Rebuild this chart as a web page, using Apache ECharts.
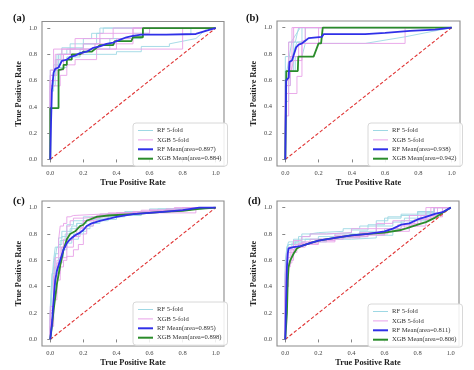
<!DOCTYPE html>
<html><head><meta charset="utf-8">
<script src="https://cdn.jsdelivr.net/npm/echarts@6/dist/echarts.min.js"></script>
<style>html,body{margin:0;padding:0;background:#fff}#c{width:474px;height:370px}</style>
</head><body><div id="c"></div><script>
// ---------- data ----------
const tickValues = [0, 0.2, 0.4, 0.6, 0.8, 1.0];
const panelLabels = ['(a)', '(b)', '(c)', '(d)'];
const axisTitle = 'True Positive Rate';
const foldNames = ['RF 5-fold', 'XGB 5-fold'];
const rfAreas = ['0.897', '0.938', '0.895', '0.811'];
const xgbAreas = ['0.884', '0.942', '0.898', '0.806'];
const diagonal = [[0, 0], [1, 1]];

// panel (a)
const aRfFolds = [
  [[0,0],[0,0.6],[0.02,0.6],[0.02,0.68],[0.05,0.68],[0.05,0.8],[0.1,0.8],[0.1,0.84],[0.2,0.84],[0.2,0.88],[0.28,0.88],[0.28,0.96],[0.3,0.96],[0.3,1],[1,1]],
  [[0,0],[0,0.64],[0.03,0.64],[0.03,0.76],[0.08,0.76],[0.08,0.8],[0.4,0.8],[0.4,0.82],[0.55,0.82],[0.55,0.86],[0.72,0.86],[0.72,0.88],[0.8,0.9],[0.88,0.92],[0.95,1],[1,1]],
  [[0,0],[0,0.52],[0.02,0.52],[0.02,0.72],[0.06,0.72],[0.06,0.8],[0.12,0.8],[0.12,0.88],[0.3,0.88],[0.3,0.92],[0.5,0.92],[0.5,0.96],[0.6,0.96],[0.6,1],[1,1]],
  [[0,0],[0,0.68],[0.04,0.68],[0.04,0.8],[0.07,0.8],[0.07,0.85],[0.2,0.85],[0.2,0.92],[0.25,0.92],[0.25,0.96],[0.32,0.96],[0.32,1],[1,1]],
  [[0,0],[0,0.56],[0.03,0.56],[0.03,0.7],[0.1,0.7],[0.1,0.78],[0.18,0.78],[0.18,0.84],[0.36,0.84],[0.36,0.92],[0.55,0.92],[0.55,0.95],[0.85,0.95],[0.85,1],[1,1]]
];
const aXgbFolds = [
  [[0,0],[0,0.6],[0.02,0.6],[0.02,0.84],[0.8,0.84],[0.8,1],[1,1]],
  [[0,0],[0,0.64],[0.04,0.64],[0.04,0.76],[0.07,0.76],[0.07,0.84],[0.15,0.84],[0.15,0.92],[0.38,0.92],[0.38,0.96],[0.6,0.96],[0.6,1],[1,1]],
  [[0,0],[0,0.56],[0.06,0.56],[0.06,0.64],[0.1,0.64],[0.1,0.72],[0.15,0.72],[0.15,0.76],[0.28,0.76],[0.28,0.84],[0.4,0.84],[0.4,0.92],[0.5,0.92],[0.5,1],[1,1]],
  [[0,0],[0,0.68],[0.03,0.68],[0.03,0.8],[0.12,0.8],[0.12,0.84],[0.27,0.84],[0.27,0.88],[0.3,0.88],[0.3,0.96],[0.38,0.96],[0.38,1],[1,1]],
  [[0,0],[0,0.6],[0.05,0.6],[0.05,0.68],[0.08,0.68],[0.08,0.8],[0.2,0.8],[0.2,0.88],[0.5,0.88],[0.5,1],[1,1]]
];
const aRfMean = [[0,0],[0.005,0.3],[0.01,0.53],[0.02,0.66],[0.03,0.69],[0.05,0.7],[0.07,0.75],[0.1,0.76],[0.12,0.78],[0.15,0.79],[0.18,0.81],[0.22,0.82],[0.26,0.85],[0.3,0.86],[0.34,0.88],[0.38,0.89],[0.42,0.91],[0.46,0.93],[0.5,0.94],[0.55,0.95],[0.7,0.95],[0.88,0.955],[0.93,0.975],[0.97,0.99],[1,1]];
const aXgbMean = [[0,0],[0,0.39],[0.05,0.39],[0.05,0.68],[0.08,0.69],[0.08,0.72],[0.1,0.72],[0.1,0.76],[0.13,0.76],[0.13,0.8],[0.18,0.8],[0.2,0.82],[0.25,0.82],[0.27,0.84],[0.3,0.87],[0.38,0.87],[0.39,0.9],[0.49,0.9],[0.5,0.93],[0.56,0.93],[0.56,1],[1,1]];

// panel (b)
const bRfFolds = [
  [[0,0],[0,0.78],[0.02,0.78],[0.02,0.89],[0.06,0.89],[0.08,1],[1,1]],
  [[0,0],[0,0.56],[0.03,0.56],[0.03,0.67],[0.06,0.67],[0.06,0.78],[0.1,0.78],[0.12,0.88],[0.48,0.88],[0.72,0.93],[1,1]],
  [[0,0],[0,0.67],[0.05,0.67],[0.05,0.89],[0.1,0.89],[0.1,1],[1,1]],
  [[0,0],[0,0.44],[0.02,0.44],[0.02,0.78],[0.04,0.78],[0.07,0.89],[0.12,0.89],[0.12,1],[1,1]],
  [[0,0],[0,0.6],[0.01,0.6],[0.04,0.9],[0.09,1],[1,1]]
];
const bXgbFolds = [
  [[0,0],[0,0.33],[0.02,0.33],[0.02,0.89],[0.05,0.89],[0.05,1],[1,1]],
  [[0,0],[0,0.5],[0.07,0.5],[0.07,0.63],[0.1,0.63],[0.1,0.88],[0.72,0.88],[0.72,1],[1,1]],
  [[0,0],[0,0.56],[0.03,0.56],[0.03,0.78],[0.08,0.78],[0.08,0.88],[0.2,0.88],[0.2,1],[1,1]],
  [[0,0],[0,0.44],[0.01,0.44],[0.01,0.67],[0.04,0.67],[0.04,1],[1,1]],
  [[0,0],[0,0.6],[0.02,0.6],[0.05,0.75],[0.1,0.75],[0.1,0.9],[0.12,0.9],[0.12,1],[1,1]]
];
const bRfMean = [[0,0],[0.005,0.6],[0.02,0.62],[0.025,0.74],[0.04,0.75],[0.05,0.79],[0.06,0.8],[0.065,0.85],[0.08,0.87],[0.1,0.88],[0.12,0.9],[0.14,0.92],[0.22,0.93],[0.23,0.95],[0.48,0.95],[0.6,0.96],[0.75,0.975],[0.9,0.985],[1,1]];
const bXgbMean = [[0,0],[0.006,0.67],[0.075,0.67],[0.078,0.78],[0.17,0.78],[0.2,0.88],[0.215,0.88],[0.225,1],[1,1]];

// panel (c)
const cRfFolds = [
  [[0,0],[0.01,0.15],[0.02,0.35],[0.03,0.55],[0.05,0.65],[0.07,0.72],[0.1,0.78],[0.13,0.82],[0.16,0.86],[0.2,0.88],[0.25,0.9],[0.35,0.92],[0.5,0.95],[0.7,0.97],[0.9,0.99],[1,1]],
  [[0,0],[0.02,0.2],[0.03,0.4],[0.05,0.55],[0.08,0.62],[0.1,0.68],[0.13,0.73],[0.17,0.76],[0.2,0.8],[0.24,0.84],[0.28,0.88],[0.35,0.9],[0.45,0.93],[0.6,0.96],[0.8,0.98],[1,1]],
  [[0,0],[0.01,0.25],[0.02,0.45],[0.03,0.6],[0.05,0.7],[0.07,0.77],[0.1,0.82],[0.14,0.87],[0.2,0.9],[0.3,0.93],[0.45,0.95],[0.65,0.97],[0.85,0.99],[1,1]],
  [[0,0],[0.02,0.1],[0.03,0.3],[0.05,0.48],[0.07,0.58],[0.1,0.7],[0.14,0.76],[0.18,0.8],[0.22,0.82],[0.26,0.86],[0.3,0.88],[0.4,0.91],[0.55,0.94],[0.75,0.97],[0.9,0.99],[1,1]],
  [[0,0],[0.01,0.2],[0.03,0.5],[0.04,0.62],[0.06,0.7],[0.09,0.75],[0.12,0.8],[0.16,0.84],[0.22,0.88],[0.3,0.91],[0.42,0.94],[0.6,0.96],[0.8,0.99],[1,1]]
];
const cXgbFolds = [
  [[0,0],[0.02,0.2],[0.03,0.45],[0.05,0.62],[0.06,0.75],[0.08,0.86],[0.1,0.88],[0.12,0.93],[0.14,0.94],[0.3,0.95],[0.5,0.96],[0.88,0.96],[0.88,1],[1,1]],
  [[0,0],[0.02,0.1],[0.04,0.3],[0.06,0.45],[0.08,0.55],[0.1,0.6],[0.14,0.63],[0.17,0.68],[0.2,0.72],[0.22,0.8],[0.26,0.86],[0.3,0.92],[0.4,0.94],[0.6,0.96],[0.8,0.98],[0.9,1],[1,1]],
  [[0,0],[0.02,0.25],[0.04,0.48],[0.06,0.6],[0.08,0.7],[0.1,0.76],[0.12,0.86],[0.14,0.9],[0.2,0.92],[0.3,0.93],[0.5,0.95],[0.7,0.97],[0.85,0.99],[1,1]],
  [[0,0],[0.02,0.15],[0.04,0.35],[0.06,0.5],[0.1,0.62],[0.14,0.7],[0.18,0.78],[0.2,0.84],[0.25,0.9],[0.35,0.93],[0.55,0.96],[0.75,0.98],[1,1]],
  [[0,0],[0.02,0.22],[0.04,0.42],[0.07,0.58],[0.1,0.7],[0.13,0.75],[0.16,0.78],[0.2,0.85],[0.28,0.9],[0.4,0.94],[0.6,0.96],[0.85,0.98],[1,1]]
];
const cRfMean = [[0,0],[0.01,0.12],[0.02,0.3],[0.03,0.45],[0.04,0.52],[0.06,0.6],[0.08,0.68],[0.1,0.73],[0.12,0.76],[0.15,0.79],[0.18,0.81],[0.2,0.83],[0.22,0.86],[0.25,0.88],[0.3,0.9],[0.4,0.93],[0.5,0.95],[0.6,0.96],[0.7,0.97],[0.8,0.98],[0.9,1],[1,1]];
const cXgbMean = [[0,0],[0.01,0.1],[0.02,0.22],[0.04,0.42],[0.06,0.56],[0.08,0.68],[0.1,0.76],[0.12,0.8],[0.15,0.82],[0.18,0.86],[0.2,0.87],[0.22,0.9],[0.28,0.93],[0.35,0.94],[0.5,0.95],[0.6,0.96],[0.7,0.97],[0.8,0.975],[0.9,0.99],[1,1]];

// panel (d)
const dRfFolds = [
  [[0,0],[0.01,0.5],[0.02,0.68],[0.05,0.72],[0.1,0.76],[0.15,0.8],[0.2,0.81],[0.35,0.82],[0.45,0.84],[0.55,0.86],[0.62,0.9],[0.7,0.93],[0.8,0.95],[0.9,0.97],[1,1]],
  [[0,0],[0.01,0.45],[0.02,0.66],[0.04,0.7],[0.1,0.73],[0.2,0.76],[0.3,0.78],[0.45,0.8],[0.55,0.82],[0.65,0.86],[0.72,0.89],[0.8,0.92],[0.9,0.96],[1,1]],
  [[0,0],[0.01,0.55],[0.02,0.7],[0.06,0.72],[0.12,0.74],[0.25,0.76],[0.35,0.77],[0.5,0.78],[0.6,0.8],[0.7,0.84],[0.8,0.9],[0.9,0.95],[1,1]],
  [[0,0],[0.015,0.5],[0.03,0.68],[0.08,0.7],[0.15,0.72],[0.25,0.74],[0.4,0.76],[0.55,0.77],[0.65,0.79],[0.75,0.84],[0.85,0.9],[0.95,0.96],[1,1]],
  [[0,0],[0.01,0.6],[0.02,0.7],[0.08,0.74],[0.15,0.78],[0.25,0.8],[0.4,0.81],[0.5,0.83],[0.6,0.87],[0.7,0.92],[0.8,0.94],[0.9,0.97],[1,1]]
];
const dXgbFolds = [
  [[0,0],[0.01,0.3],[0.03,0.55],[0.05,0.6],[0.06,0.68],[0.1,0.7],[0.2,0.73],[0.3,0.75],[0.45,0.78],[0.6,0.8],[0.7,0.82],[0.8,0.86],[0.9,0.92],[1,1]],
  [[0,0],[0.02,0.4],[0.04,0.58],[0.07,0.66],[0.12,0.7],[0.2,0.72],[0.3,0.74],[0.45,0.77],[0.6,0.79],[0.75,0.82],[0.85,0.86],[0.95,0.93],[1,1]],
  [[0,0],[0.01,0.5],[0.02,0.65],[0.05,0.7],[0.1,0.75],[0.15,0.78],[0.25,0.8],[0.4,0.81],[0.55,0.84],[0.65,0.88],[0.75,0.9],[0.85,0.94],[1,1]],
  [[0,0],[0.015,0.45],[0.03,0.62],[0.06,0.68],[0.1,0.72],[0.2,0.74],[0.35,0.76],[0.5,0.78],[0.62,0.8],[0.72,0.84],[0.82,0.88],[0.92,0.94],[1,1]],
  [[0,0],[0.01,0.35],[0.02,0.58],[0.04,0.66],[0.08,0.7],[0.15,0.73],[0.3,0.76],[0.45,0.79],[0.55,0.81],[0.68,0.84],[0.78,0.87],[0.88,0.91],[1,1]]
];
const dRfMean = [[0,0],[0.005,0.3],[0.01,0.55],[0.015,0.65],[0.02,0.69],[0.05,0.7],[0.1,0.71],[0.15,0.73],[0.2,0.75],[0.3,0.77],[0.4,0.79],[0.5,0.8],[0.6,0.82],[0.65,0.84],[0.7,0.87],[0.75,0.88],[0.8,0.91],[0.85,0.93],[0.9,0.95],[0.95,0.965],[1,1]];
const dXgbMean = [[0,0],[0.01,0.2],[0.015,0.45],[0.02,0.55],[0.03,0.6],[0.05,0.65],[0.07,0.69],[0.1,0.71],[0.15,0.73],[0.2,0.75],[0.3,0.77],[0.4,0.79],[0.5,0.8],[0.6,0.81],[0.7,0.83],[0.75,0.85],[0.8,0.87],[0.85,0.89],[0.9,0.92],[0.95,0.96],[1,1]];

// ---------- layout / style ----------
const panels = [
  {rf: aRfFolds, xgb: aXgbFolds, rfMean: aRfMean, xgbMean: aXgbMean, step: false},
  {rf: bRfFolds, xgb: bXgbFolds, rfMean: bRfMean, xgbMean: bXgbMean, step: false},
  {rf: cRfFolds, xgb: cXgbFolds, rfMean: cRfMean, xgbMean: cXgbMean, step: 'start'},
  {rf: dRfFolds, xgb: dXgbFolds, rfMean: dRfMean, xgbMean: dXgbMean, step: 'start'}
];
const gridBoxes = [
  {left: 42, top: 21.5, width: 182, height: 144.5},
  {left: 277, top: 21, width: 183, height: 145},
  {left: 42, top: 201, width: 182, height: 145},
  {left: 277, top: 201, width: 182, height: 145}
];
const legendPos = [
  {left: 133, top: 123}, {left: 368, top: 123},
  {left: 133, top: 302}, {left: 368, top: 304}
];
const labelPos = [
  {left: 13, top: 13}, {left: 246, top: 13},
  {left: 13, top: 196}, {left: 248, top: 196}
];
const SERIF = '"Liberation Serif", "Times New Roman", serif';
const C_RF_FOLD = '#9ed8e4', C_XGB_FOLD = '#e8a2e8', C_RF = '#3030e8', C_XGB = '#2a8c2a', C_DIAG = '#e03434';

const grid = [], xAxis = [], yAxis = [], series = [], legend = [], title = [];
panels.forEach((p, i) => {
  const tag = '#' + i;
  grid.push(Object.assign({show: true, borderColor: '#8c8c8c', borderWidth: 1.1, backgroundColor: '#fff'}, gridBoxes[i]));
  const axisCommon = {
    type: 'value', gridIndex: i, min: -0.05, max: 1.05,
    name: axisTitle, nameLocation: 'middle',
    nameTextStyle: {fontFamily: SERIF, fontWeight: 'bold', fontSize: 8.3, color: '#222'},
    axisLine: {show: false},
    axisTick: {show: true, length: 3, customValues: tickValues, lineStyle: {color: '#666', width: 0.8}},
    axisLabel: {customValues: tickValues, fontFamily: SERIF, fontSize: 6.5, color: '#444',
      formatter: v => v.toFixed(1)},
    splitLine: {show: false}
  };
  xAxis.push(Object.assign({}, axisCommon, {nameGap: 13, axisLabel: Object.assign({}, axisCommon.axisLabel, {margin: 4})}));
  yAxis.push(Object.assign({}, axisCommon, {nameGap: 19, axisLabel: Object.assign({}, axisCommon.axisLabel, {margin: 5})}));

  const rfFoldName = foldNames[0] + tag, xgbFoldName = foldNames[1] + tag;
  p.rf.forEach(d => series.push({type: 'line', name: rfFoldName, xAxisIndex: i, yAxisIndex: i, data: d,
    symbol: 'none', step: p.step, lineStyle: {color: C_RF_FOLD, width: 0.9}, itemStyle: {color: C_RF_FOLD}, z: 2}));
  p.xgb.forEach(d => series.push({type: 'line', name: xgbFoldName, xAxisIndex: i, yAxisIndex: i, data: d,
    symbol: 'none', step: p.step, lineStyle: {color: C_XGB_FOLD, width: 0.9}, itemStyle: {color: C_XGB_FOLD}, z: 2}));
  series.push({type: 'line', name: 'chance' + tag, xAxisIndex: i, yAxisIndex: i, data: diagonal,
    symbol: 'none', lineStyle: {color: C_DIAG, width: 1.1, type: [3.5, 2]}, z: 3});
  const rfName = 'RF Mean(area=' + rfAreas[i] + ')' + tag;
  const xgbName = 'XGB Mean(area=' + xgbAreas[i] + ')' + tag;
  series.push({type: 'line', name: rfName, xAxisIndex: i, yAxisIndex: i, data: p.rfMean,
    symbol: 'none', lineStyle: {color: C_RF, width: 1.8}, itemStyle: {color: C_RF}, z: 5});
  series.push({type: 'line', name: xgbName, xAxisIndex: i, yAxisIndex: i, data: p.xgbMean,
    symbol: 'none', lineStyle: {color: C_XGB, width: 1.8}, itemStyle: {color: C_XGB}, z: 4});

  legend.push(Object.assign({
    orient: 'vertical',
    data: [
      {name: rfFoldName, lineStyle: {width: 1, color: C_RF_FOLD}},
      {name: xgbFoldName, lineStyle: {width: 1, color: C_XGB_FOLD}},
      {name: rfName, lineStyle: {width: 2, color: C_RF}},
      {name: xgbName, lineStyle: {width: 2, color: C_XGB}}
    ],
    formatter: n => n.split('#')[0],
    itemStyle: {opacity: 0},
    itemWidth: 15, itemHeight: 7, itemGap: 2.4, padding: [4, 6, 4, 4],
    borderColor: '#d8d8d8', borderWidth: 1, borderRadius: 3, backgroundColor: 'rgba(255,255,255,0.85)',
    textStyle: {fontFamily: SERIF, fontSize: 6.6, color: '#333', padding: [0, 0, 0, -1]},
    selectedMode: false
  }, legendPos[i]));

  title.push(Object.assign({text: panelLabels[i], padding: 0,
    textStyle: {fontFamily: SERIF, fontWeight: 'bold', fontSize: 10.5, color: '#111'}}, labelPos[i]));
});

const chart = echarts.init(document.getElementById('c'), null, {renderer: 'canvas'});
chart.setOption({backgroundColor: '#fff', animation: false, title, grid, xAxis, yAxis, series, legend});
</script></body></html>
